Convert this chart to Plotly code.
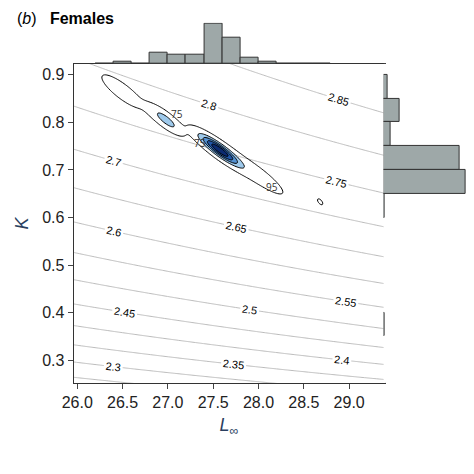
import numpy as np
import plotly.graph_objects as go

# top marginal histogram (L_inf)
L_bins = [26.3, 26.5, 26.7, 26.9, 27.1, 27.3, 27.5, 27.7, 27.9, 28.1, 28.3, 28.5, 28.7]
L_counts = [2, 8, 2, 34, 28, 28, 124, 80, 20, 8, 1, 1, 1]
# right marginal histogram (K)
K_bins = [0.875, 0.825, 0.775, 0.725, 0.675, 0.625, 0.375]
K_counts = [4, 16, 7, 78, 84, 1, 1]
# posterior density components: L, K, sd along L, sd across ridge, weight
comp_L = [27.57, 26.98, 27.95, 26.50, 28.68]
comp_K = [0.742, 0.805, 0.695, 0.865, 0.633]
comp_sL = [0.14, 0.10, 0.22, 0.22, 0.035]
comp_sv = [0.009, 0.009, 0.013, 0.018, 0.006]
comp_w = [1.0, 0.35, 0.10, 0.06, 0.05]
ridge_slope = -0.13
density_levels = [0.035, 0.835, 0.2]
phi_levels = [2.2, 2.85, 0.05]

Lg = np.linspace(25.9, 29.45, 300)
Kg = np.linspace(0.24, 0.93, 300)
LL, KK = np.meshgrid(Lg, Kg)
phi = np.log10(KK) + 2 * np.log10(LL)

dens = np.zeros_like(LL)
for L0, K0, sL, sv, w in zip(comp_L, comp_K, comp_sL, comp_sv, comp_w):
    v = KK - (K0 + ridge_slope * (LL - L0))
    dens += w * np.exp(-0.5 * ((LL - L0) / sL) ** 2 - 0.5 * (v / sv) ** 2)

fig = go.Figure()
fig.add_trace(go.Contour(x=Lg, y=Kg, z=phi, xaxis="x", yaxis="y",
    contours=dict(start=phi_levels[0], end=phi_levels[1], size=phi_levels[2],
                  coloring="lines", showlabels=True,
                  labelfont=dict(size=11, color="black", family="Liberation Sans")),
    colorscale=[[0, "#bbbbbb"], [1, "#bbbbbb"]], showscale=False,
    line=dict(width=1), hoverinfo="skip"))
fig.add_trace(go.Contour(x=Lg, y=Kg, z=dens, xaxis="x", yaxis="y",
    autocontour=False,
    contours=dict(start=density_levels[0], end=density_levels[1], size=density_levels[2],
                  coloring="fill"),
    colorscale=[[0, "rgba(255,255,255,0)"], [0.2, "rgba(255,255,255,0)"],
                [0.24, "#cfe4f5"], [0.45, "#8fc0e8"], [0.65, "#3f80c8"],
                [0.85, "#15479a"], [1, "#0b2a70"]],
    zmin=0, zmax=1, showscale=False, line=dict(color="black", width=1),
    hoverinfo="skip"))

fig.add_trace(go.Bar(x=L_bins, y=L_counts, width=0.2, xaxis="x", yaxis="y2",
    marker=dict(color="#9ea8a8", line=dict(color="#333", width=1)), showlegend=False))
fig.add_trace(go.Bar(y=K_bins, x=K_counts, width=0.05, orientation="h", xaxis="x2", yaxis="y",
    marker=dict(color="#9ea8a8", line=dict(color="#333", width=1)), showlegend=False))

for txt, L, K in [("75", 27.1, 0.818), ("75", 27.35, 0.757), ("95", 28.15, 0.664)]:
    fig.add_annotation(x=L, y=K, text=txt, showarrow=False, font=dict(size=10, color="#333"))

tickf = dict(size=16, family="Liberation Sans", color="#222")
fig.update_layout(
    width=474, height=474, margin=dict(l=0, r=0, t=0, b=0),
    plot_bgcolor="white", paper_bgcolor="white", showlegend=False, bargap=0,
    xaxis=dict(domain=[0.116, 0.789], range=[25.96, 29.39], tickvals=[26, 26.5, 27, 27.5, 28, 28.5, 29],
               ticktext=["26.0", "26.5", "27.0", "27.5", "28.0", "28.5", "29.0"],
               ticks="outside", ticklen=5, showline=True, linecolor="#333", mirror=True,
               showgrid=False, zeroline=False, tickfont=tickf,
               title=dict(text="<i>L</i><sub>∞</sub>", font=dict(size=18, family="Liberation Sans"), standoff=8)),
    yaxis=dict(domain=[0.209, 0.882], range=[0.252, 0.923], tickvals=[0.3, 0.4, 0.5, 0.6, 0.7, 0.8, 0.9],
               ticks="outside", ticklen=5, showline=True, linecolor="#333", mirror=True,
               showgrid=False, zeroline=False, tickfont=tickf,
               title=dict(text="<i>K</i>", font=dict(size=18, family="Liberation Sans"), standoff=8)),
    yaxis2=dict(domain=[0.882, 0.969], range=[0, 128], visible=False),
    xaxis2=dict(domain=[0.787, 0.969], range=[0, 86], visible=False),
)
fig.add_annotation(xref="paper", yref="paper", x=-0.01, y=1.0, xanchor="left", yanchor="top", showarrow=False,
    text="(<i>b</i>)   <b>Females</b>", font=dict(size=16, family="Liberation Sans", color="black"))
fig.write_html("out.html")
